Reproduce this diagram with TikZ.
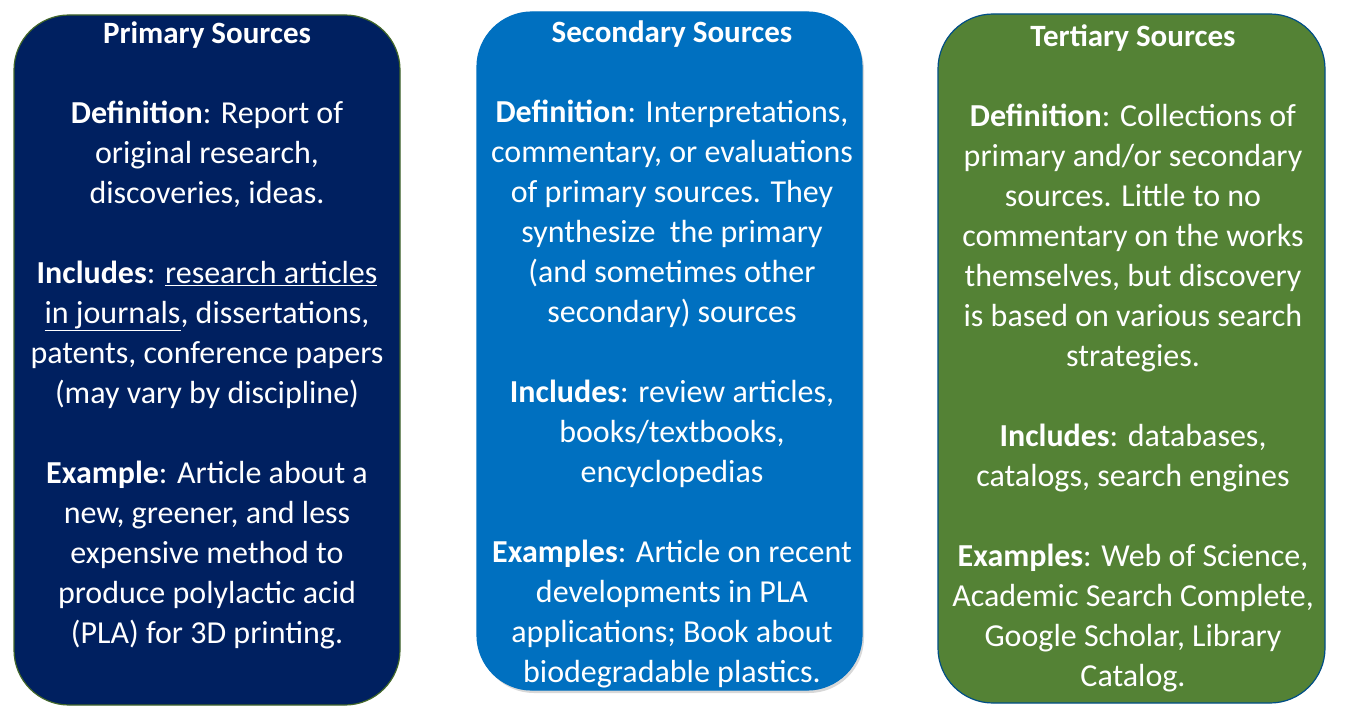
\documentclass[tikz,border=0pt]{standalone}
\usepackage{fontspec}
\setmainfont{Carlito}
\usetikzlibrary{shadows}
\definecolor{navy}{HTML}{002060}
\definecolor{midblue}{HTML}{0070C0}
\definecolor{olive}{HTML}{548235}
\begin{document}
\begin{tikzpicture}[x=1pt,y=-1pt,
  card/.style={rounded corners=55pt,line width=1.2pt},
  ttl/.style={text=white,font=\fontsize{31}{40}\selectfont\bfseries,anchor=center},
  body/.style={text=white,font=\fontsize{32}{40}\selectfont,align=center,anchor=north,inner sep=0pt}]
\useasboundingbox (0,0) rectangle (1350,717);
\fill[white] (0,0) rectangle (1350,717);
\draw[card,fill=navy,draw=olive!80!black] (14,15) rectangle (400,705);
\draw[card,fill=midblue,draw=midblue,drop shadow={shadow xshift=2pt,shadow yshift=-3pt,opacity=0.3}] (477,12) rectangle (862,690);
\draw[card,fill=olive,draw=midblue!70!black] (938,14) rectangle (1325,703);
\node[ttl] (t1) at (207,35) {Primary Sources};
\node[ttl] (t2) at (672,34) {Secondary Sources};
\node[ttl] (t3) at (1133,38) {Tertiary Sources};
\node[body] (b1) at (207,101) {\textbf{Definition}: Report of\\original research,\\discoveries, ideas.\\[40pt]
\textbf{Includes}: \underline{research articles}\\\underline{in journals}, dissertations,\\patents, conference papers\\(may vary by discipline)\\[40pt]
\textbf{Example}: Article about a\\new, greener, and less\\expensive method to\\produce polylactic acid\\(PLA) for 3D printing.};
\node[body] (b2) at (672,100) {\textbf{Definition}: Interpretations,\\commentary, or evaluations\\of primary sources. They\\synthesize\ \ the primary\\(and sometimes other\\secondary) sources\\[40pt]
\textbf{Includes}: review articles,\\books/textbooks,\\encyclopedias\\[40pt]
\textbf{Examples}: Article on recent\\developments in PLA\\applications; Book about\\biodegradable plastics.};
\node[body] (b3) at (1133,104) {\textbf{Definition}: Collections of\\primary and/or secondary\\sources. Little to no\\commentary on the works\\themselves, but discovery\\is based on various search\\strategies.\\[40pt]
\textbf{Includes}: databases,\\catalogs, search engines\\[40pt]
\textbf{Examples}: Web of Science,\\Academic Search Complete,\\Google Scholar, Library\\Catalog.};
\end{tikzpicture}
\end{document}
